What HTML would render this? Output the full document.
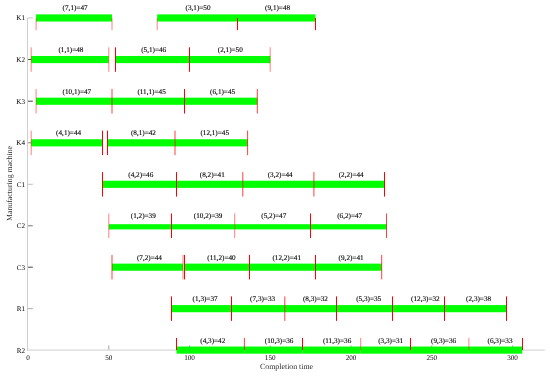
<!DOCTYPE html>
<html><head><meta charset="utf-8"><title>Gantt chart</title>
<style>
html,body{margin:0;padding:0;background:#fff;}
svg{display:block;}
text{font-family:"Liberation Serif",serif;fill:#000;text-rendering:geometricPrecision;}
.lab{font-size:7.2px;stroke:#000;stroke-width:0.12px;}
.tk{font-size:7.15px;fill:#333;}
.ax{font-size:7.85px;fill:#2c2c2c;}
</style></head><body>
<svg width="550" height="377" viewBox="0 0 550 377">
<rect x="0" y="0" width="550" height="377" fill="#fff"/>
<g stroke="#cecece" stroke-width="1" fill="none">
<line x1="27.5" y1="17.9" x2="27.5" y2="350.6"/>
<line x1="27" y1="350.1" x2="544.8" y2="350.1"/>
<line x1="28" y1="17.9" x2="32.8" y2="17.9" stroke="#c4c4c4"/>
<line x1="28" y1="59.5" x2="32.8" y2="59.5" stroke="#555"/>
<line x1="28" y1="101.2" x2="32.8" y2="101.2" stroke="#444"/>
<line x1="28" y1="142.8" x2="32.8" y2="142.8" stroke="#888"/>
<line x1="28" y1="184.3" x2="32.8" y2="184.3" stroke="#c0c0c0"/>
<line x1="28" y1="225.8" x2="32.8" y2="225.8" stroke="#777"/>
<line x1="28" y1="267.2" x2="32.8" y2="267.2" stroke="#444"/>
<line x1="28" y1="308.6" x2="32.8" y2="308.6" stroke="#aaa"/>
<line x1="108.8" y1="349.6" x2="108.8" y2="345.4" stroke="#909090" stroke-width="0.8"/>
<line x1="189.5" y1="349.6" x2="189.5" y2="345.4" stroke="#909090" stroke-width="0.8"/>
<line x1="270.2" y1="349.6" x2="270.2" y2="345.4" stroke="#909090" stroke-width="0.8"/>
<line x1="351.0" y1="349.6" x2="351.0" y2="345.4" stroke="#909090" stroke-width="0.8"/>
<line x1="431.8" y1="349.6" x2="431.8" y2="345.4" stroke="#909090" stroke-width="0.8"/>
<line x1="512.5" y1="349.6" x2="512.5" y2="345.4" stroke="#909090" stroke-width="0.8"/>
</g>
<g fill="#00ff00">
<rect x="36.1" y="14.38" width="75.9" height="7.15"/>
<rect x="157.2" y="14.38" width="80.8" height="7.15"/>
<rect x="237.9" y="14.38" width="77.5" height="7.15"/>
<rect x="31.2" y="55.97" width="77.5" height="7.15"/>
<rect x="115.2" y="55.97" width="74.3" height="7.15"/>
<rect x="189.5" y="55.97" width="80.8" height="7.15"/>
<rect x="36.1" y="97.67" width="75.9" height="7.15"/>
<rect x="112.0" y="97.67" width="72.7" height="7.15"/>
<rect x="184.7" y="97.67" width="72.7" height="7.15"/>
<rect x="31.2" y="139.23" width="71.1" height="7.15"/>
<rect x="107.1" y="139.23" width="67.8" height="7.15"/>
<rect x="175.0" y="139.23" width="72.7" height="7.15"/>
<rect x="102.3" y="180.73" width="74.3" height="7.15"/>
<rect x="176.6" y="180.73" width="66.2" height="7.15"/>
<rect x="242.8" y="180.73" width="71.1" height="7.15"/>
<rect x="313.9" y="180.73" width="71.1" height="7.15"/>
<rect x="108.8" y="224.2" width="63.0" height="5.2"/>
<rect x="171.7" y="224.2" width="63.0" height="5.2"/>
<rect x="234.7" y="224.2" width="75.9" height="5.2"/>
<rect x="310.6" y="224.2" width="75.9" height="5.2"/>
<rect x="112.0" y="263.62" width="71.1" height="7.15"/>
<rect x="184.7" y="263.62" width="64.6" height="7.15"/>
<rect x="249.3" y="263.62" width="66.2" height="7.15"/>
<rect x="315.5" y="263.62" width="66.2" height="7.15"/>
<rect x="171.7" y="305.07" width="59.8" height="7.15"/>
<rect x="231.5" y="305.07" width="53.3" height="7.15"/>
<rect x="284.8" y="305.07" width="51.7" height="7.15"/>
<rect x="336.5" y="305.07" width="56.5" height="7.15"/>
<rect x="393.0" y="305.07" width="51.7" height="7.15"/>
<rect x="444.7" y="305.07" width="61.4" height="7.15"/>
<rect x="176.6" y="346.53" width="67.8" height="7.15"/>
<rect x="244.4" y="346.53" width="58.1" height="7.15"/>
<rect x="302.6" y="346.53" width="58.1" height="7.15"/>
<rect x="360.7" y="346.53" width="50.1" height="7.15"/>
<rect x="410.8" y="346.53" width="58.1" height="7.15"/>
<rect x="468.9" y="346.53" width="53.3" height="7.15"/>
</g>
<g stroke="#ff0000">
<line x1="36.1" y1="17.9" x2="36.1" y2="30.2" stroke-width="0.5"/>
<line x1="112.0" y1="17.9" x2="112.0" y2="30.2" stroke-width="0.5"/>
<line x1="157.2" y1="17.9" x2="157.2" y2="30.2" stroke-width="0.5"/>
<line x1="237.5" y1="17.9" x2="237.5" y2="30.2" stroke-width="1.0"/>
<line x1="315.5" y1="17.9" x2="315.5" y2="30.2" stroke-width="1.0"/>
<line x1="31.2" y1="47.3" x2="31.2" y2="71.8" stroke-width="0.5"/>
<line x1="108.8" y1="47.3" x2="108.8" y2="71.8" stroke-width="0.5"/>
<line x1="115.5" y1="47.3" x2="115.5" y2="71.8" stroke-width="1.0"/>
<line x1="189.5" y1="47.3" x2="189.5" y2="71.8" stroke-width="1.0"/>
<line x1="270.2" y1="47.3" x2="270.2" y2="71.8" stroke-width="0.5"/>
<line x1="36.1" y1="89.0" x2="36.1" y2="113.5" stroke-width="0.5"/>
<line x1="112.0" y1="89.0" x2="112.0" y2="113.5" stroke-width="0.75"/>
<line x1="184.5" y1="89.0" x2="184.5" y2="113.5" stroke-width="1.0"/>
<line x1="257.3" y1="89.0" x2="257.3" y2="113.5" stroke-width="0.75"/>
<line x1="31.2" y1="130.6" x2="31.2" y2="155.1" stroke-width="0.5"/>
<line x1="102.5" y1="130.6" x2="102.5" y2="155.1" stroke-width="1.0"/>
<line x1="107.5" y1="130.6" x2="107.5" y2="155.1" stroke-width="1.0"/>
<line x1="175.0" y1="130.6" x2="175.0" y2="155.1" stroke-width="0.75"/>
<line x1="247.6" y1="130.6" x2="247.6" y2="155.1" stroke-width="0.75"/>
<line x1="102.5" y1="172.1" x2="102.5" y2="196.6" stroke-width="1.0"/>
<line x1="176.5" y1="172.1" x2="176.5" y2="196.6" stroke-width="1.0"/>
<line x1="242.8" y1="172.1" x2="242.8" y2="196.6" stroke-width="0.75"/>
<line x1="313.9" y1="172.1" x2="313.9" y2="196.6" stroke-width="0.75"/>
<line x1="384.5" y1="172.1" x2="384.5" y2="196.6" stroke-width="1.0"/>
<line x1="108.8" y1="213.5" x2="108.8" y2="238.0" stroke-width="0.5"/>
<line x1="171.5" y1="213.5" x2="171.5" y2="238.0" stroke-width="1.0"/>
<line x1="234.7" y1="213.5" x2="234.7" y2="238.0" stroke-width="0.5"/>
<line x1="310.5" y1="213.5" x2="310.5" y2="238.0" stroke-width="1.0"/>
<line x1="386.5" y1="213.5" x2="386.5" y2="238.0" stroke-width="0.75"/>
<line x1="112.0" y1="254.9" x2="112.0" y2="279.4" stroke-width="0.75"/>
<line x1="183.0" y1="254.9" x2="183.0" y2="279.4" stroke-width="0.5"/>
<line x1="184.5" y1="254.9" x2="184.5" y2="279.4" stroke-width="1.0"/>
<line x1="249.5" y1="254.9" x2="249.5" y2="279.4" stroke-width="1.0"/>
<line x1="315.5" y1="254.9" x2="315.5" y2="279.4" stroke-width="1.0"/>
<line x1="381.7" y1="254.9" x2="381.7" y2="279.4" stroke-width="0.75"/>
<line x1="171.5" y1="296.4" x2="171.5" y2="320.9" stroke-width="1.0"/>
<line x1="231.5" y1="296.4" x2="231.5" y2="320.9" stroke-width="1.0"/>
<line x1="284.8" y1="296.4" x2="284.8" y2="320.9" stroke-width="0.75"/>
<line x1="336.5" y1="296.4" x2="336.5" y2="320.9" stroke-width="1.0"/>
<line x1="392.5" y1="296.4" x2="392.5" y2="320.9" stroke-width="1.0"/>
<line x1="444.5" y1="296.4" x2="444.5" y2="320.9" stroke-width="1.0"/>
<line x1="506.5" y1="296.4" x2="506.5" y2="320.9" stroke-width="1.0"/>
<line x1="176.5" y1="337.9" x2="176.5" y2="350.1" stroke-width="1.0"/>
<line x1="244.4" y1="337.9" x2="244.4" y2="350.1" stroke-width="0.75"/>
<line x1="302.5" y1="337.9" x2="302.5" y2="350.1" stroke-width="1.0"/>
<line x1="360.7" y1="337.9" x2="360.7" y2="350.1" stroke-width="0.5"/>
<line x1="410.5" y1="337.9" x2="410.5" y2="350.1" stroke-width="1.0"/>
<line x1="468.9" y1="337.9" x2="468.9" y2="350.1" stroke-width="0.5"/>
<line x1="522.5" y1="337.9" x2="522.5" y2="350.1" stroke-width="1.0"/>
</g>
<g class="lab">
<text x="62.6" y="10.3">(7,1)=47</text>
<text x="185.5" y="10.3">(3,1)=50</text>
<text x="265.1" y="10.3">(9,1)=48</text>
<text x="58.4" y="51.9">(1,1)=48</text>
<text x="141.2" y="51.9">(5,1)=46</text>
<text x="217.8" y="51.9">(2,1)=50</text>
<text x="62.6" y="93.7">(10,1)=47</text>
<text x="137.4" y="93.7">(11,1)=45</text>
<text x="210.1" y="93.7">(6,1)=45</text>
<text x="56.1" y="135.2">(4,1)=44</text>
<text x="130.9" y="135.2">(8,1)=42</text>
<text x="200.4" y="135.2">(12,1)=45</text>
<text x="128.3" y="176.7">(4,2)=46</text>
<text x="199.8" y="176.7">(8,2)=41</text>
<text x="267.7" y="176.7">(3,2)=44</text>
<text x="338.7" y="176.7">(2,2)=44</text>
<text x="130.8" y="218.2">(1,2)=39</text>
<text x="193.8" y="218.2">(10,2)=39</text>
<text x="261.3" y="218.2">(5,2)=47</text>
<text x="337.2" y="218.2">(6,2)=47</text>
<text x="136.9" y="259.6">(7,2)=44</text>
<text x="207.3" y="259.6">(11,2)=40</text>
<text x="272.4" y="259.6">(12,2)=41</text>
<text x="338.6" y="259.6">(9,2)=41</text>
<text x="192.6" y="301.0">(1,3)=37</text>
<text x="250.1" y="301.0">(7,3)=33</text>
<text x="302.9" y="301.0">(8,3)=32</text>
<text x="356.2" y="301.0">(5,3)=35</text>
<text x="411.1" y="301.0">(12,3)=32</text>
<text x="466.1" y="301.0">(2,3)=38</text>
<text x="200.3" y="342.5">(4,3)=42</text>
<text x="264.8" y="342.5">(10,3)=36</text>
<text x="322.9" y="342.5">(11,3)=36</text>
<text x="378.2" y="342.5">(3,3)=31</text>
<text x="431.1" y="342.5">(9,3)=36</text>
<text x="487.5" y="342.5">(6,3)=33</text>
</g>
<g class="tk" text-anchor="end">
<text x="25.0" y="20.4">K1</text>
<text x="25.0" y="62.0">K2</text>
<text x="25.0" y="103.8">K3</text>
<text x="25.0" y="145.3">K4</text>
<text x="25.0" y="186.8">C1</text>
<text x="25.0" y="228.2">C2</text>
<text x="25.0" y="269.7">C3</text>
<text x="25.0" y="311.1">R1</text>
<text x="25.0" y="352.6">R2</text>
</g>
<g class="tk" text-anchor="middle">
<text x="28.0" y="359.6">0</text>
<text x="108.8" y="359.6">50</text>
<text x="189.5" y="359.6">100</text>
<text x="270.2" y="359.6">150</text>
<text x="351.0" y="359.6">200</text>
<text x="431.8" y="359.6">250</text>
<text x="512.5" y="359.6">300</text>
</g>
<text class="ax" text-anchor="middle" x="286.6" y="369.1">Completion time</text>
<text class="ax" text-anchor="middle" transform="translate(11.9,183.5) rotate(-90)">Manufacturing machine</text>
</svg></body></html>
